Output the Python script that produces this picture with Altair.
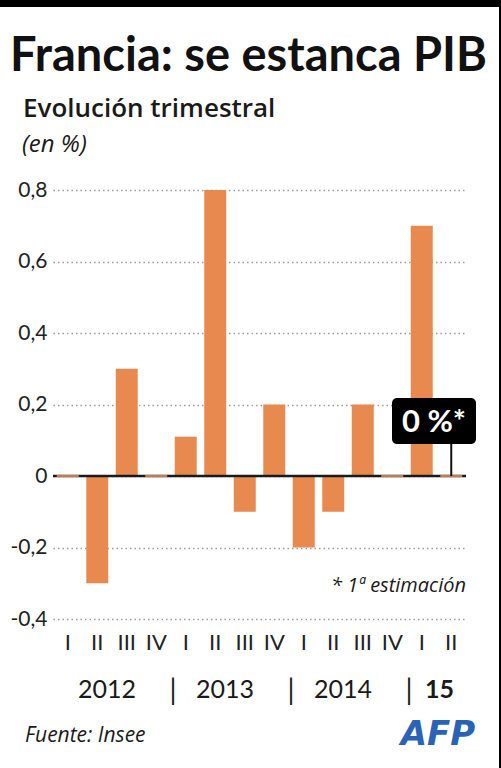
import altair as alt
import pandas as pd

# Quarterly GDP growth, France (%)
years = [2012] * 4 + [2013] * 4 + [2014] * 4 + [2015] * 2
quarters = ["I", "II", "III", "IV"] * 3 + ["I", "II"]
growth = [0.0, -0.3, 0.3, 0.0, 0.11, 0.8, -0.1, 0.2, -0.2, -0.1, 0.2, 0.0, 0.7, 0.0]

year_labels = ["2012", "2013", "2014", "15"]
year_anchor = ["2012-II", "2013-II", "2014-II", "2015-I"]
separator_anchor = ["2012-IV", "2013-IV", "2014-IV"]

y_ticks = [-0.4, -0.2, 0.0, 0.2, 0.4, 0.6, 0.8]

ORANGE = "#E88A50"
FONT = "Lato"
FONT2 = "Open Sans"
LEFT, TOP = 53, 190
W, H = 413, 429
HALF_STEP = W / len(growth) / 2

df = pd.DataFrame({
    "key": [f"{y}-{q}" for y, q in zip(years, quarters)],
    "value": growth,
})
order = list(df["key"])

x_enc = alt.X(
    "key:N", sort=order, title=None,
    scale=alt.Scale(paddingInner=0, paddingOuter=0),
    axis=alt.Axis(labelExpr="split(datum.value, '-')[1]", labelAngle=0,
                  labelFontSize=22, labelPadding=13, ticks=False, domain=False,
                  labelColor="#222", labelFont=FONT),
)
y_enc = alt.Y(
    "value:Q", title=None,
    scale=alt.Scale(domain=[-0.4, 0.8], nice=False, zero=False),
    axis=alt.Axis(values=y_ticks, ticks=False, domain=False, grid=True,
                  gridDash=[1.5, 3], gridColor="#9a9a9a", gridWidth=1.5,
                  labelFontSize=21, labelPadding=6, labelColor="#222", labelFont=FONT,
                  labelExpr="datum.value == 0 ? '0' : replace(replace(format(datum.value, '.1f'), '.', ','), '\u2212', '-')"),
)

base = alt.Chart(df)

bars = base.mark_bar(size=22, color=ORANGE).encode(x=x_enc, y=y_enc)

zero_line = base.mark_rule(color="#1a1a1a", strokeWidth=2.5).encode(
    y=alt.datum(0), x=alt.value(0), x2=alt.value(W)
).transform_filter("datum.key == '2012-I'")

flat = base.transform_filter("datum.value == 0").mark_tick(
    color="#F0AE82", thickness=3, size=22, orient="horizontal"
).encode(x=alt.X("key:N", sort=order), y="value:Q")


def label(text, x, y, size, weight="normal", style="normal", align="left",
          color="#1a1a1a", font=FONT):
    return alt.Chart(pd.DataFrame({"t": [text]})).mark_text(
        fontSize=size, fontWeight=weight, fontStyle=style, align=align,
        baseline="alphabetic", color=color, font=font
    ).encode(x=alt.value(x - LEFT), y=alt.value(y - TOP), text="t:N")


# Year labels below the quarter labels
years_df = pd.DataFrame({"key": year_anchor, "label": year_labels})
year_text = alt.Chart(years_df[years_df["label"] != "15"]).mark_text(
    fontSize=25, font=FONT, color="#1a1a1a", dx=HALF_STEP - 5, baseline="alphabetic"
).encode(x=alt.X("key:N", sort=order), y=alt.value(698 - TOP), text="label:N")
year_short = alt.Chart(years_df[years_df["label"] == "15"]).mark_text(
    fontSize=25, font=FONT, fontWeight="bold", color="#1a1a1a", dx=HALF_STEP + 3,
    baseline="alphabetic"
).encode(x=alt.X("key:N", sort=order), y=alt.value(698 - TOP), text="label:N")
separators = alt.Chart(pd.DataFrame({"key": separator_anchor, "s": ["|"] * 3})).mark_text(
    fontSize=28, font=FONT, color="#1a1a1a", dx=HALF_STEP + 2, baseline="alphabetic"
).encode(x=alt.X("key:N", sort=order), y=alt.value(700 - TOP), text="s:N")

# Callout for the latest quarter
last = df.tail(1).assign(label=lambda d: d["value"].map(lambda v: f"{v:.0f} %*"))
stem = alt.Chart(last).mark_rule(color="#111", strokeWidth=2).encode(
    x=alt.X("key:N", sort=order), y="value:Q", y2=alt.value(444 - TOP)
)
box = alt.Chart(last).mark_rect(color="#000", cornerRadius=5).encode(
    x=alt.value(392 - LEFT), x2=alt.value(476 - LEFT),
    y=alt.value(398 - TOP), y2=alt.value(444 - TOP)
)
box_text = alt.Chart(last).mark_text(
    fontSize=31, fontWeight="bold", color="white", font=FONT, baseline="alphabetic"
).encode(x=alt.value(434 - LEFT), y=alt.value(432 - TOP), text="label:N")

# Frame pieces: top band and right edge
top_band = alt.Chart(pd.DataFrame({"a": [0]})).mark_rect(color="#000").encode(
    x=alt.value(-LEFT), x2=alt.value(501 - LEFT), y=alt.value(-TOP), y2=alt.value(7 - TOP)
)
right_edge = alt.Chart(pd.DataFrame({"a": [0]})).mark_rule(color="#000", strokeWidth=2).encode(
    x=alt.value(500 - LEFT), y=alt.value(-TOP), y2=alt.value(768 - TOP)
)

title = label("Francia: se estanca PIB", 10, 71, 47, weight="bold", color="#111")
subtitle = label("Evolución trimestral", 23, 117, 26, weight=600, font=FONT2)
unit = label("(en %)", 22, 152, 24, style="italic", font=FONT2)
note = label("* 1ª estimación", 466, 592, 20, style="italic", align="right", font=FONT2)
source = label("Fuente: Insee", 25, 742, 21, style="italic", font=FONT2)
logo = label("AFP", 438, 745, 34, weight="bold", style="italic", align="center",
             color="#2A62B6", font="DejaVu Sans")

chart = alt.layer(
    bars, zero_line, flat, stem, box, box_text,
    year_text, year_short, separators,
    top_band, right_edge, title, subtitle, unit, note, source, logo,
).properties(
    width=W, height=H,
    background="white",
    autosize=alt.AutoSizeParams(type="none"),
    padding={"left": LEFT, "top": TOP, "right": 501 - LEFT - W, "bottom": 768 - TOP - H},
).configure_view(strokeWidth=0, stroke="transparent")

chart.save("out.html", embed_options={"renderer": "svg", "actions": False})
